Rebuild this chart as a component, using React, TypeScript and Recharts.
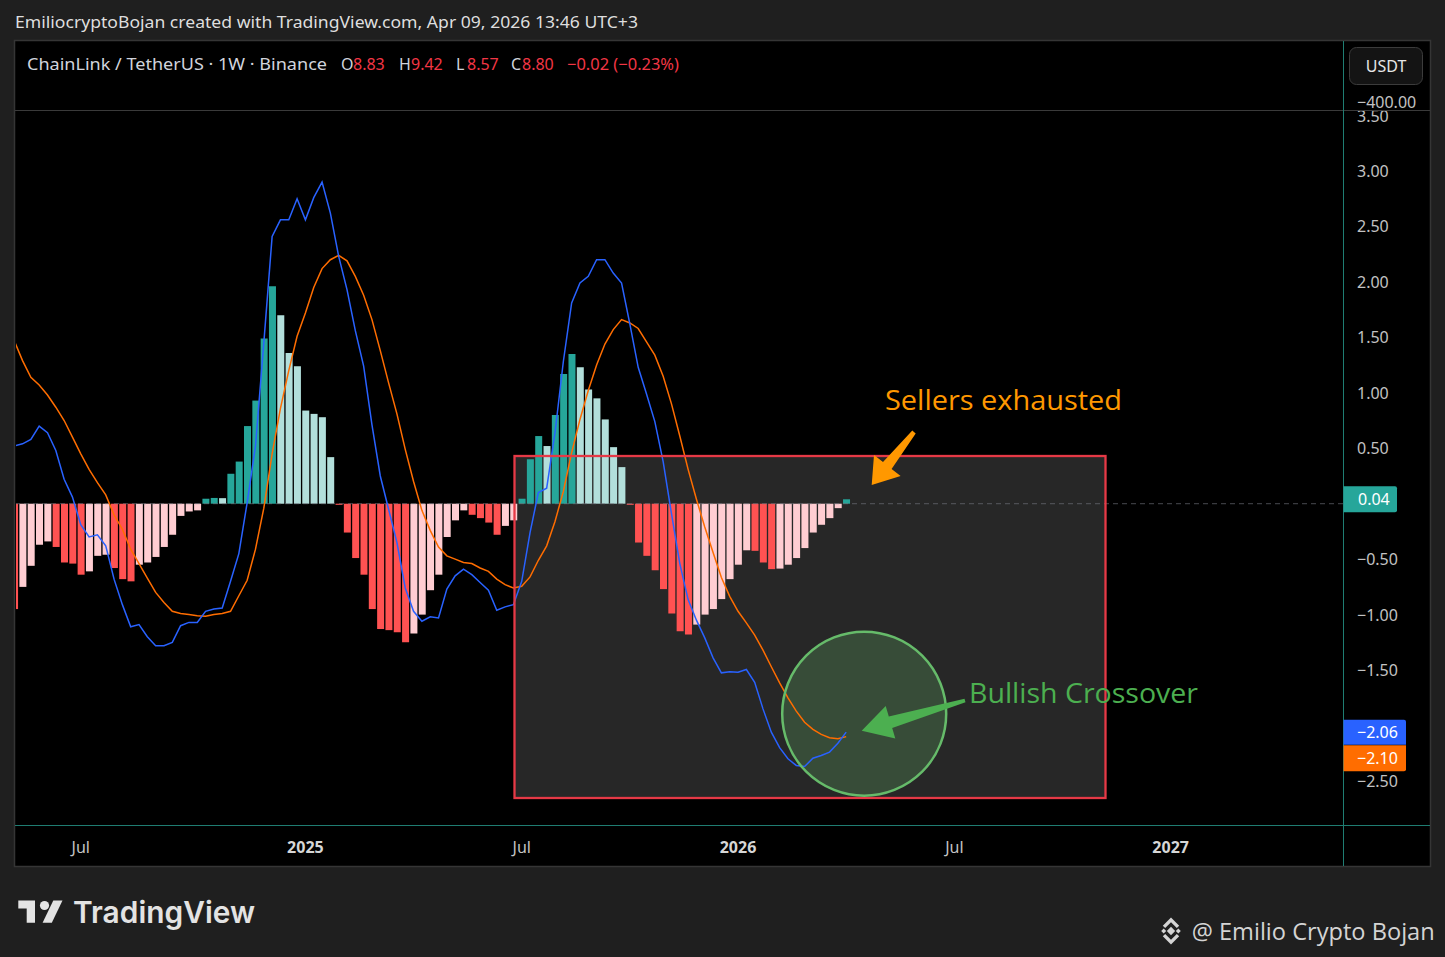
import React from 'react';
import { ComposedChart, Bar, Line, XAxis, YAxis, ReferenceLine, Cell } from 'recharts';

// ---- data (weekly candles, first week opens Monday 2024-05-06) ----
const FIRST_WEEK = '2024-05-06T00:00:00Z';
const WEEK_MS = 7 * 24 * 3600 * 1000;

const HIST: number[] = [
  -0.95, -0.75, -0.56, -0.37, -0.34, -0.39, -0.53, -0.54, -0.64, -0.61,
  -0.47, -0.46, -0.58, -0.68, -0.70, -0.55, -0.53, -0.48, -0.39, -0.28,
  -0.11, -0.07, -0.06, 0.045, 0.052, 0.05, 0.27, 0.38, 0.70, 0.93,
  1.49, 1.96, 1.70, 1.36, 1.24, 0.84, 0.81, 0.78, 0.42, -0.01,
  -0.26, -0.49, -0.64, -0.95, -1.13, -1.14, -1.16, -1.25, -1.17, -1.00,
  -0.78, -0.64, -0.30, -0.15, -0.06, -0.10, -0.13, -0.17, -0.28, -0.20,
  -0.15, 0.045, 0.40, 0.61, 0.52, 0.80, 1.17, 1.35, 1.23, 1.03,
  0.95, 0.76, 0.51, 0.33, -0.01, -0.35, -0.47, -0.60, -0.77, -0.99,
  -1.15, -1.18, -1.09, -1.00, -0.95, -0.86, -0.68, -0.55, -0.42, -0.425,
  -0.53, -0.59, -0.585, -0.55, -0.49, -0.40, -0.26, -0.19, -0.13, -0.04,
  0.04,
];

const MACD: number[] = [
  0.52, 0.54, 0.58, 0.70, 0.64, 0.48, 0.22, 0.06, -0.19, -0.30,
  -0.28, -0.38, -0.68, -0.91, -1.11, -1.09, -1.20, -1.28, -1.28, -1.25,
  -1.10, -1.07, -1.07, -0.97, -0.95, -0.94, -0.70, -0.45, 0.01, 0.52,
  1.45, 2.41, 2.56, 2.56, 2.75, 2.56, 2.76, 2.90, 2.62, 2.23,
  1.93, 1.56, 1.24, 0.71, 0.25, -0.05, -0.35, -0.76, -0.97, -1.06,
  -1.02, -1.03, -0.77, -0.65, -0.59, -0.64, -0.71, -0.78, -0.96, -0.93,
  -0.91, -0.70, -0.26, 0.10, 0.14, 0.64, 1.28, 1.81, 1.99, 2.05,
  2.20, 2.20, 2.08, 1.99, 1.62, 1.23, 0.99, 0.74, 0.38, -0.09,
  -0.54, -0.865, -1.05, -1.21, -1.39, -1.525, -1.515, -1.52, -1.495, -1.61,
  -1.85, -2.06, -2.20, -2.30, -2.36, -2.37, -2.295, -2.27, -2.24, -2.16,
  -2.06,
];

const SIGNAL: number[] = [
  1.47, 1.29, 1.14, 1.07, 0.98, 0.87, 0.75, 0.60, 0.45, 0.31,
  0.19, 0.08, -0.10, -0.23, -0.41, -0.54, -0.67, -0.80, -0.89, -0.97,
  -0.99, -1.00, -1.01, -1.015, -1.00, -0.99, -0.97, -0.83, -0.69, -0.41,
  -0.04, 0.45, 0.86, 1.20, 1.51, 1.72, 1.95, 2.12, 2.20, 2.24,
  2.19, 2.05, 1.88, 1.66, 1.38, 1.09, 0.81, 0.49, 0.20, -0.06,
  -0.24, -0.39, -0.47, -0.50, -0.53, -0.54, -0.58, -0.61, -0.68, -0.73,
  -0.76, -0.745, -0.66, -0.51, -0.38, -0.16, 0.11, 0.46, 0.76, 1.02,
  1.25, 1.44, 1.57, 1.66, 1.63, 1.58, 1.46, 1.34, 1.15, 0.90,
  0.61, 0.31, 0.04, -0.21, -0.44, -0.665, -0.835, -0.97, -1.075, -1.185,
  -1.32, -1.47, -1.615, -1.75, -1.87, -1.97, -2.035, -2.08, -2.11, -2.12,
  -2.10,
];

const X_TICK_DATES = ['2024-07-01', '2025-01-06', '2025-07-07', '2026-01-05', '2026-07-06', '2027-01-04'];
const X_TICK_LABELS = ['Jul', '2025', 'Jul', '2026', 'Jul', '2027'];
const X_DOMAIN_DATES = ['2024-05-07T12:00:00Z', '2027-05-29T00:00:00Z'];
const Y_TICKS = [3.5, 3, 2.5, 2, 1.5, 1, 0.5, -0.5, -1, -1.5, -2.5];
const Y_DOMAIN: [number, number] = [-2.897, 3.541];

// ---- layout constants ----
const FONT = "'Noto Sans', 'DejaVu Sans', sans-serif";
const CHART_LEFT = 16;
const CHART_TOP = 111;
const PLOT_W = 1327;
const PLOT_H = 714;
const AXIS_W = 87;
const XAXIS_H = 41;

const C_TEAL = '#26a69a';
const C_TEAL_LIGHT = '#b2dfdb';
const C_RED = '#ff5252';
const C_PINK = '#ffcdd2';

const fmt = (v: number) => v.toFixed(2).replace('-', '\u2212');

const yOf = (v: number) => CHART_TOP + ((Y_DOMAIN[1] - v) / (Y_DOMAIN[1] - Y_DOMAIN[0])) * PLOT_H;

function arrowPoints(tx: number, ty: number, px: number, py: number, headLen: number, headHalf: number, shaftBase: number, shaftTail: number) {
  const dx = px - tx;
  const dy = py - ty;
  const L = Math.hypot(dx, dy);
  const ux = dx / L;
  const uy = dy / L;
  const nx = -uy;
  const ny = ux;
  const bx = px - ux * headLen;
  const by = py - uy * headLen;
  const pts = [
    [tx + nx * shaftTail, ty + ny * shaftTail],
    [bx + nx * shaftBase, by + ny * shaftBase],
    [bx + nx * headHalf, by + ny * headHalf],
    [px, py],
    [bx - nx * headHalf, by - ny * headHalf],
    [bx - nx * shaftBase, by - ny * shaftBase],
    [tx - nx * shaftTail, ty - ny * shaftTail],
  ];
  return pts.map((p) => `${p[0].toFixed(1)},${p[1].toFixed(1)}`).join(' ');
}

const X_TICK_TIMES = X_TICK_DATES.map((d) => Date.parse(d + 'T00:00:00Z'));

const XTick = (props: any) => {
  const { x, payload } = props;
  const idx = X_TICK_TIMES.indexOf(payload.value);
  const label = idx >= 0 ? X_TICK_LABELS[idx] : '';
  const isYear = /^\d{4}$/.test(label);
  return (
    <text x={x} y={741.5} textAnchor="middle" fill={isYear ? '#d6d6d6' : '#c4c4c4'} fontSize={16}
      fontWeight={isYear ? 700 : 400} fontFamily={FONT}>
      {label}
    </text>
  );
};

const YTick = (props: any) => {
  const { y, payload } = props;
  return (
    <text x={1357 - CHART_LEFT} y={y + 6} textAnchor="start" fill="#c2c2c2" fontSize={16} fontFamily={FONT}>
      {fmt(payload.value)}
    </text>
  );
};

export default function App() {
  const t0 = Date.parse(FIRST_WEEK);
  const data = HIST.map((h, i) => ({ t: t0 + i * WEEK_MS, hist: h, macd: MACD[i], signal: SIGNAL[i] }));
  const xDomain: [number, number] = [Date.parse(X_DOMAIN_DATES[0]), Date.parse(X_DOMAIN_DATES[1])];

  const lastHist = HIST[HIST.length - 1];
  const lastMacd = MACD[MACD.length - 1];
  const lastSignal = SIGNAL[SIGNAL.length - 1];
  const histBadgeY = yOf(lastHist);
  const macdBadgeY = yOf(lastMacd);
  const sigBadgeY = Math.max(yOf(lastSignal), macdBadgeY + 26);

  const redText = '#f23645';
  const legendGrey = '#d1d4dc';

  return (
    <div style={{ position: 'absolute', left: 0, top: 0, width: 1445, height: 957, background: '#1f1f1f', overflow: 'hidden', fontFamily: FONT }}>
      {/* background layer: panel and annotation fills */}
      <svg width={1445} height={957} style={{ position: 'absolute', left: 0, top: 0 }}>
        <rect x={14.5} y={40.5} width={1416} height={826} fill="#000" stroke="#353535" strokeWidth={1.5} />
        <rect x={514.5} y={456} width={591} height={342} fill="#272727" />
        <circle cx={864.2} cy={713.7} r={82} fill="rgba(102,187,106,0.25)" />
      </svg>

      {/* chart layer */}
      <div style={{ position: 'absolute', left: CHART_LEFT, top: CHART_TOP }}>
        <ComposedChart width={PLOT_W + AXIS_W} height={PLOT_H + XAXIS_H} data={data}
          margin={{ top: 0, right: 0, bottom: 0, left: 0 }}>
          <XAxis dataKey="t" type="number" domain={xDomain} allowDataOverflow ticks={X_TICK_TIMES}
            interval={0} axisLine={false} tickLine={false} height={XAXIS_H} tick={<XTick />} />
          <YAxis type="number" orientation="right" domain={Y_DOMAIN} allowDataOverflow ticks={Y_TICKS}
            interval={0} axisLine={false} tickLine={false} width={AXIS_W} tick={<YTick />} />
          <Bar dataKey="hist" barSize={7} isAnimationActive={false}>
            {data.map((d, i) => {
              const prev = i > 0 ? HIST[i - 1] : Infinity;
              const rising = d.hist > prev;
              const fill = d.hist >= 0 ? (rising ? C_TEAL : C_TEAL_LIGHT) : (rising ? C_PINK : C_RED);
              return <Cell key={i} fill={fill} />;
            })}
          </Bar>
          <ReferenceLine y={0} stroke="#787b86" strokeOpacity={0.6} strokeDasharray="5 4" />
          <Line dataKey="signal" type="linear" stroke="#ff6d00" strokeWidth={1.5} dot={false} isAnimationActive={false} />
          <Line dataKey="macd" type="linear" stroke="#2962ff" strokeWidth={1.5} dot={false} isAnimationActive={false} />
        </ComposedChart>
      </div>

      {/* overlay layer */}
      <svg width={1445} height={957} style={{ position: 'absolute', left: 0, top: 0, pointerEvents: 'none' }}>
        {/* title */}
        <text x={15} y={28} fontSize={16.5} fill="#dedede" fontFamily={FONT} textLength={623} lengthAdjust="spacingAndGlyphs">
          EmiliocryptoBojan created with TradingView.com, Apr 09, 2026 13:46 UTC+3
        </text>

        {/* header legend */}
        <g fontSize={16} fontFamily={FONT}>
          <text x={27} y={70} fill={legendGrey} textLength={300} lengthAdjust="spacingAndGlyphs">ChainLink / TetherUS · 1W · Binance</text>
          <text x={341} y={70} fill={legendGrey}>O</text>
          <text x={353} y={70} fill={redText}>8.83</text>
          <text x={399} y={70} fill={legendGrey}>H</text>
          <text x={411} y={70} fill={redText}>9.42</text>
          <text x={456} y={70} fill={legendGrey}>L</text>
          <text x={467} y={70} fill={redText}>8.57</text>
          <text x={511} y={70} fill={legendGrey}>C</text>
          <text x={522} y={70} fill={redText}>8.80</text>
          <text x={567} y={70} fill={redText} textLength={112} lengthAdjust="spacingAndGlyphs">{'\u22120.02 (\u22120.23%)'}</text>
        </g>

        {/* separators */}
        <rect x={1344} y={86} width={85} height={24} fill="#000" />
        <line x1={15} y1={110.5} x2={1430} y2={110.5} stroke="#3a3a3a" strokeWidth={1} />
        <line x1={1343.5} y1={41} x2={1343.5} y2={866} stroke="#1f7d72" strokeWidth={1} />
        <line x1={15} y1={825.5} x2={1430} y2={825.5} stroke="#1f7d72" strokeWidth={1} />

        {/* price scale of main pane */}
        <rect x={1349.5} y={47.5} width={73} height={37} rx={7} fill="#141414" stroke="#3c3c3c" strokeWidth={1} />
        <text x={1386} y={72} textAnchor="middle" fontSize={16} fill="#e6e6e6" fontFamily={FONT}>USDT</text>
        <text x={1357} y={107.5} fontSize={16} fill="#c2c2c2" fontFamily={FONT}>{'\u2212400.00'}</text>

        {/* annotation strokes */}
        <rect x={514.5} y={456} width={591} height={342} fill="none" stroke="#e63946" strokeWidth={2.3} />
        <circle cx={864.2} cy={713.7} r={82} fill="none" stroke="#66bb6a" strokeWidth={2.5} />

        {/* arrows */}
        <polygon points={arrowPoints(914, 432, 871.7, 485, 25, 17, 5.5, 2.2)} fill="#ff9800" />
        <polygon points={arrowPoints(965, 700.5, 861.7, 730.7, 30, 17, 6, 1.8)} fill="#4caf50" />

        {/* annotation texts */}
        <text x={885} y={410} fontSize={28} fill="#ff9800" fontFamily="'Open Sans', sans-serif" textLength={237} lengthAdjust="spacingAndGlyphs">Sellers exhausted</text>
        <text x={969} y={703} fontSize={28} fill="#4caf50" fontFamily="'Open Sans', sans-serif" textLength={229} lengthAdjust="spacingAndGlyphs">Bullish Crossover</text>

        {/* last value badges */}
        <path d={`M1343.5 ${histBadgeY - 13} H1395 Q1397 ${histBadgeY - 13} 1397 ${histBadgeY - 11} V${histBadgeY + 11} Q1397 ${histBadgeY + 13} 1395 ${histBadgeY + 13} H1343.5 Z`} fill={C_TEAL} />
        <text x={1358} y={histBadgeY + 5.5} fontSize={16} fill="#fff" fontFamily={FONT}>{fmt(lastHist)}</text>
        <path d={`M1343.5 ${macdBadgeY - 12.5} H1404 Q1406 ${macdBadgeY - 12.5} 1406 ${macdBadgeY - 10.5} V${macdBadgeY + 12.5} H1343.5 Z`} fill="#2962ff" />
        <text x={1357} y={macdBadgeY + 5.5} fontSize={16} fill="#fff" fontFamily={FONT}>{fmt(lastMacd)}</text>
        <path d={`M1343.5 ${sigBadgeY - 13} H1406 V${sigBadgeY + 11} Q1406 ${sigBadgeY + 13} 1404 ${sigBadgeY + 13} H1343.5 Z`} fill="#ff6d00" />
        <text x={1357} y={sigBadgeY + 5.5} fontSize={16} fill="#fff" fontFamily={FONT}>{fmt(lastSignal)}</text>

        {/* footer: TradingView logo */}
        <path d="M18.3 900.5 H35 V922.7 H26.7 V908.5 H18.3 Z" fill="#e3e3e3" />
        <circle cx={44.5} cy={905.5} r={4.6} fill="#e3e3e3" />
        <path d="M53.3 900.5 H62.5 L51.8 922.7 H42.6 Z" fill="#e3e3e3" />
        <text x={73} y={922.7} fontSize={30} fontWeight={600} fill="#e3e3e3" fontFamily="Inter, 'Open Sans', sans-serif" textLength={182} lengthAdjust="spacingAndGlyphs">TradingView</text>

        {/* footer: author */}
        <g fill="#d4d4d4" transform="translate(1171,931)">
          <polygon points="0,-4.2 4.2,0 0,4.2 -4.2,0" />
          <polygon points="-9.8,0 -7.3,-2.5 -4.8,0 -7.3,2.5" />
          <polygon points="9.8,0 7.3,-2.5 4.8,0 7.3,2.5" />
          <polygon points="0,-13.5 8.2,-5.3 5.8,-2.9 0,-8.7 -5.8,-2.9 -8.2,-5.3" />
          <polygon points="0,13.5 8.2,5.3 5.8,2.9 0,8.7 -5.8,2.9 -8.2,5.3" />
        </g>
        <text x={1191.7} y={940} fontSize={24} fill="#d4d4d4" fontFamily="'Open Sans', 'Noto Sans', sans-serif" textLength={243} lengthAdjust="spacingAndGlyphs">@ Emilio Crypto Bojan</text>
      </svg>
    </div>
  );
}
